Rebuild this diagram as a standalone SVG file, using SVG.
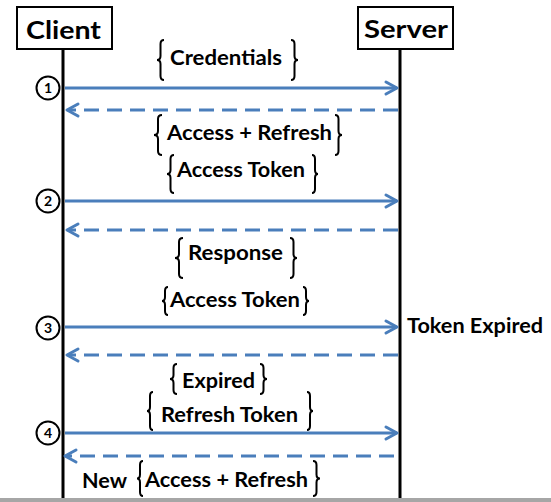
<svg xmlns="http://www.w3.org/2000/svg" width="551" height="502" viewBox="0 0 551 502">
<style>
.box{fill:#fff;stroke:#000;stroke-width:2}
.life{stroke:#000;stroke-width:3}
.msg{stroke:#4A7EBB;stroke-width:3;fill:none}
.dash{stroke-dasharray:15 8}
.head{stroke:#4A7EBB;stroke-width:3;fill:none;stroke-linecap:round;stroke-linejoin:round}
.brace{stroke:#000;stroke-width:2;fill:none}
.t{font-family:Lato,"Liberation Sans",sans-serif;font-weight:bold;fill:#000}
.lbl{font-size:20px}
.hdr{font-size:25px}
.num{font-size:14px;text-anchor:middle}
.circ{fill:#fff;stroke:#000;stroke-width:2}
</style>
<rect x="0" y="0" width="551" height="502" fill="#fff"/>
<rect x="0" y="498" width="551" height="4" fill="#A6A6A6"/>

<g id="client">
<line class="life" x1="63" y1="49" x2="63" y2="498"/>
<rect class="box" x="17" y="7" width="95" height="42"/>
<text class="t hdr" x="26" y="39" textLength="75" lengthAdjust="spacingAndGlyphs">Client</text>
</g>
<g id="server">
<line class="life" x1="400" y1="49" x2="400" y2="498"/>
<rect class="box" x="358" y="7" width="95" height="42"/>
<text class="t hdr" x="364" y="38" textLength="84" lengthAdjust="spacingAndGlyphs">Server</text>
</g>

<g id="connectors">
<line class="msg" x1="65" y1="88" x2="397" y2="88"/>
<polyline class="head" points="386,82 397,88 386,94"/>
<line class="msg dash" x1="398" y1="110" x2="68" y2="110"/>
<polyline class="head" points="78,104 67,110 78,116"/>

<line class="msg" x1="65" y1="201" x2="397" y2="201"/>
<polyline class="head" points="386,195 397,201 386,207"/>
<line class="msg dash" x1="398" y1="230" x2="68" y2="230"/>
<polyline class="head" points="78,224 67,230 78,236"/>

<line class="msg" x1="65" y1="327" x2="397" y2="327"/>
<polyline class="head" points="386,321 397,327 386,333"/>
<line class="msg dash" x1="398" y1="355" x2="68" y2="355"/>
<polyline class="head" points="78,349 67,355 78,361"/>

<line class="msg" x1="65" y1="433" x2="397" y2="433"/>
<polyline class="head" points="386,427 397,433 386,439"/>
<line class="msg dash" x1="394" y1="456" x2="66" y2="456"/>
<polyline class="head" points="76,450 65,456 76,462"/>
</g>

<g id="step1">
<circle class="circ" cx="48" cy="88" r="11.5"/>
<text class="t num" x="48" y="93">1</text>
</g>
<g id="step2">
<circle class="circ" cx="48" cy="201" r="11.5"/>
<text class="t num" x="48" y="206">2</text>
</g>
<g id="step3">
<circle class="circ" cx="48" cy="328" r="11.5"/>
<text class="t num" x="48" y="333">3</text>
</g>
<g id="step4">
<circle class="circ" cx="48" cy="433" r="11.5"/>
<text class="t num" x="48" y="438">4</text>
</g>

<g id="label-credentials">
<path class="brace" d="M164,40 Q160.5,40 160.5,44 L160.5,56 Q160.5,60 157,60 Q160.5,60 160.5,64 L160.5,76 Q160.5,80 164,80"/>
<text class="t lbl" x="170" y="65" textLength="112" lengthAdjust="spacingAndGlyphs">Credentials</text>
<path class="brace" d="M291,40 Q294.5,40 294.5,44 L294.5,56 Q294.5,60 298,60 Q294.5,60 294.5,64 L294.5,76 Q294.5,80 291,80"/>
</g>

<g id="label-access-refresh">
<path class="brace" d="M162,115 Q158,115 158,119 L158,131 Q158,135 154,135 Q158,135 158,139 L158,151 Q158,155 162,155"/>
<text class="t lbl" x="167" y="140" textLength="165" lengthAdjust="spacingAndGlyphs">Access + Refresh</text>
<path class="brace" d="M335,115 Q338.5,115 338.5,119 L338.5,131 Q338.5,135 342,135 Q338.5,135 338.5,139 L338.5,151 Q338.5,155 335,155"/>
</g>

<g id="label-access-token-1">
<path class="brace" d="M174,155 Q170.5,155 170.5,159 L170.5,170 Q170.5,174 167,174 Q170.5,174 170.5,178 L170.5,189 Q170.5,193 174,193"/>
<text class="t lbl" x="177" y="177" textLength="128" lengthAdjust="spacingAndGlyphs">Access Token</text>
<path class="brace" d="M312,155 Q315,155 315,159 L315,170 Q315,174 318,174 Q315,174 315,178 L315,189 Q315,193 312,193"/>
</g>

<g id="label-response">
<path class="brace" d="M183,238 Q179,238 179,242 L179,254 Q179,258 175,258 Q179,258 179,262 L179,274 Q179,278 183,278"/>
<text class="t lbl" x="188" y="260" textLength="95" lengthAdjust="spacingAndGlyphs">Response</text>
<path class="brace" d="M290,238 Q293.5,238 293.5,242 L293.5,254 Q293.5,258 297,258 Q293.5,258 293.5,262 L293.5,274 Q293.5,278 290,278"/>
</g>

<g id="label-access-token-2">
<path class="brace" d="M168,287 Q165,287 165,291 L165,297 Q165,301 162,301 Q165,301 165,305 L165,311 Q165,315 168,315"/>
<text class="t lbl" x="170" y="307" textLength="130" lengthAdjust="spacingAndGlyphs">Access Token</text>
<path class="brace" d="M303,287 Q306,287 306,291 L306,297 Q306,301 309,301 Q306,301 306,305 L306,311 Q306,315 303,315"/>
</g>

<g id="label-token-expired">
<text class="t lbl" x="407" y="333" textLength="136" lengthAdjust="spacingAndGlyphs">Token Expired</text>
</g>

<g id="label-expired">
<path class="brace" d="M177,364 Q173.5,364 173.5,368 L173.5,375 Q173.5,379 170,379 Q173.5,379 173.5,383 L173.5,390 Q173.5,394 177,394"/>
<text class="t lbl" x="182" y="388" textLength="73" lengthAdjust="spacingAndGlyphs">Expired</text>
<path class="brace" d="M260,364 Q263.5,364 263.5,368 L263.5,375 Q263.5,379 267,379 Q263.5,379 263.5,383 L263.5,390 Q263.5,394 260,394"/>
</g>

<g id="label-refresh-token">
<path class="brace" d="M153,392 Q150,392 150,396 L150,407 Q150,411 147,411 Q150,411 150,415 L150,426 Q150,430 153,430"/>
<text class="t lbl" x="161" y="422" textLength="137" lengthAdjust="spacingAndGlyphs">Refresh Token</text>
<path class="brace" d="M307,392 Q310,392 310,396 L310,407 Q310,411 313,411 Q310,411 310,415 L310,426 Q310,430 307,430"/>
</g>

<g id="label-new-access-refresh">
<text class="t lbl" x="82" y="488" textLength="45" lengthAdjust="spacingAndGlyphs">New</text>
<path class="brace" d="M143,461 Q140,461 140,465 L140,474.5 Q140,478.5 137,478.5 Q140,478.5 140,482.5 L140,492 Q140,496 143,496"/>
<text class="t lbl" x="145" y="487" textLength="163" lengthAdjust="spacingAndGlyphs">Access + Refresh</text>
<path class="brace" d="M313,461 Q316.5,461 316.5,465 L316.5,474.5 Q316.5,478.5 320,478.5 Q316.5,478.5 316.5,482.5 L316.5,492 Q316.5,496 313,496"/>
</g>
</svg>
